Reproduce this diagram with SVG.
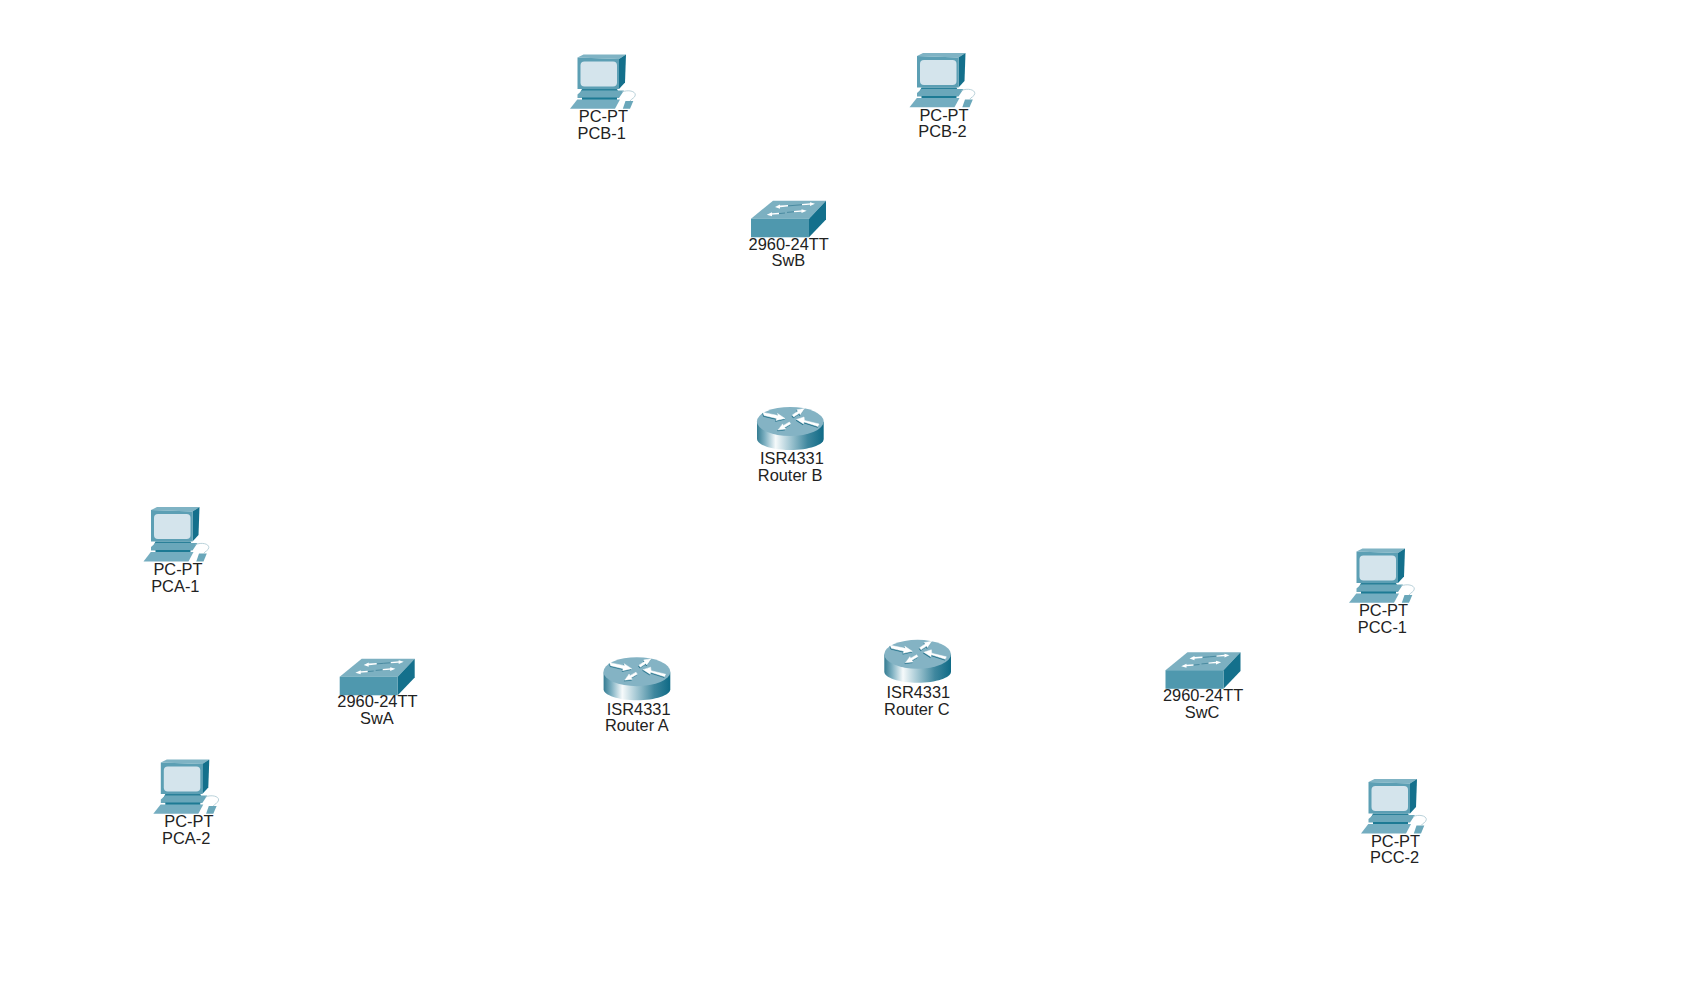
<svg xmlns="http://www.w3.org/2000/svg" width="1706" height="988" viewBox="0 0 1706 988">
<style>
text{font-family:"Liberation Sans",Arial,sans-serif;font-size:16.4px;fill:#222}
</style>
<defs>
<linearGradient id="cyl" x1="0" x2="1" y1="0" y2="0">
<stop offset="0" stop-color="#347c92"/><stop offset=".12" stop-color="#7fb1c2"/><stop offset=".28" stop-color="#f6fafb"/><stop offset=".48" stop-color="#a9cbd6"/><stop offset=".76" stop-color="#3f879e"/><stop offset="1" stop-color="#0f6a86"/>
</linearGradient>
<g id="pc">
<path d="M17.500 17.500L23.500 14.500H66L59 19Z" fill="#7fb3c4"/>
<path d="M59 19L66 14.500L65 42.500L59 49Z" fill="#14708c"/>
<path d="M17.500 17.500L59 19V49H17.500Z" fill="#5c9fb4"/>
<rect x="20.500" y="21.500" width="36.500" height="25" rx="4" fill="#d4e4ec"/>
<path d="M22 49H57L59 53H20Z" fill="#2a8099"/>
<path d="M17.500 54.500L22 50.500H64L59 58H17.500Z" fill="#6aa7ba"/>
<path d="M22 57.500H57V60H22Z" fill="#1d7a94"/>
<path d="M10 68.800L17.300 59.500H60L55 68.800Z" fill="#74adc0"/>
<path d="M62.800 68.800L65.500 61H73.300L70 68.800Z" fill="#6aa7ba"/>
<path d="M62 52C68 49.500 75.500 51 75.300 55C75 58 71.500 58.500 70 61" fill="none" stroke="#a8c6d0" stroke-width=".8"/>
</g>
<g id="sw">
<path d="M11 28.700L33 10.700H86L69 28.700Z" fill="#7cb0c1"/>
<path d="M69 28.700L86 10.700V29.500L69 47.300Z" fill="#14708c"/>
<rect x="11" y="28.700" width="58" height="18.600" fill="#4f98ae"/>
<path d="M40 16.600L55 15.300M70 14.100L55 15.300M32 24.300L45 23M61.500 21.100L47 22.400" stroke="#4a8ba1" stroke-width="1" fill="none"/>
<path fill="#fff" d="M35 17L40 14.500V15.600L48 15V16.500L40 17.200V18.700ZM75 13.700L70 12.200V13.300L62 13.900V15.300L70 14.700V16ZM26.700 24.700L32 22.300V23.300L39 22.700V24.200L32 24.800V26.300ZM66.700 20.700L61.500 19.300V20.300L54 20.900V22.300L61.500 21.700V23Z"/>
</g>
<path id="rarrows" stroke-width=".5" stroke-linejoin="round" d="M23 17.500L38 20.500L37.500 18.500L45 23.500L36 25.500L36.500 23.500L24 20.500ZM79 29L64.500 25.500L64 22L56.500 24.500L63.500 29L64 27L78 31.500ZM64.500 13.500L60.200 19.800L59.300 18.300L53.700 22L52.300 20L57.900 16.300L57 14.800ZM38 35L45.500 34.100L44.600 32.500L50.600 29L49.400 27L43.400 30.500L42.500 28.900Z"/>
<g id="rt">
<path d="M17 27V44C17 50 32 55 50.300 55S83.700 50 83.700 44V27Z" fill="url(#cyl)"/>
<ellipse cx="50.300" cy="26.500" rx="33.400" ry="14.500" fill="#84b3c4"/>
<use href="#rarrows" x="-.5" y=".9" fill="#1f6f88" stroke="#1f6f88"/>
<use href="#rarrows" fill="#fff" stroke="#fff"/>
</g>
</defs>
<rect width="1706" height="988" fill="#fff"/>
<g id="connectors"/>
<g id="PCB-1"><use href="#pc" x="560" y="40"/><text x="578.800" y="122">PC-PT</text><text x="577.500" y="139">PCB-1</text></g>
<g id="PCB-2"><use href="#pc" x="899.500" y="38.500"/><text x="919.400" y="121">PC-PT</text><text x="918.300" y="137">PCB-2</text></g>
<g id="PCA-1"><use href="#pc" x="133.500" y="492.600"/><text x="153.400" y="574.800">PC-PT</text><text x="151.200" y="592.200">PCA-1</text></g>
<g id="PCA-2"><use href="#pc" x="143.300" y="745"/><text x="164.300" y="827.200">PC-PT</text><text x="162.100" y="844">PCA-2</text></g>
<g id="PCC-1"><use href="#pc" x="1339" y="534"/><text x="1358.900" y="616.200">PC-PT</text><text x="1357.800" y="633">PCC-1</text></g>
<g id="PCC-2"><use href="#pc" x="1351" y="764.600"/><text x="1370.900" y="846.800">PC-PT</text><text x="1370" y="863.100">PCC-2</text></g>
<g id="SwB"><use href="#sw" x="740" y="190"/><text x="748.600" y="250">2960-24TT</text><text x="771.600" y="266">SwB</text></g>
<g id="SwA"><use href="#sw" x="328.700" y="648"/><text x="337.300" y="707.300">2960-24TT</text><text x="360.100" y="723.500">SwA</text></g>
<g id="SwC"><use href="#sw" x="1154.500" y="641.500"/><text x="1163" y="700.800">2960-24TT</text><text x="1184.800" y="717.500">SwC</text></g>
<g id="RouterB"><use href="#rt" x="740" y="395"/><text x="760" y="464">ISR4331</text><text x="757.800" y="481">Router B</text></g>
<g id="RouterA"><use href="#rt" x="586.600" y="645.200"/><text x="606.800" y="715">ISR4331</text><text x="604.900" y="731">Router A</text></g>
<g id="RouterC"><use href="#rt" x="867.300" y="627.800"/><text x="886.400" y="698">ISR4331</text><text x="884.100" y="715">Router C</text></g>
</svg>
